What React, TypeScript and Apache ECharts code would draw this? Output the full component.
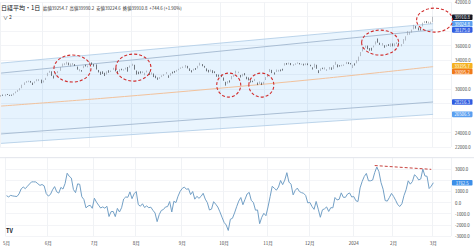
import React, { useEffect, useRef } from "react";
import * as echarts from "echarts";

// ---------- categories ----------
const firstTradingDay = "2023-05-01";
const lastTradingDay = "2024-03-01";
const marketHolidays = [
  "2023-05-03", "2023-05-04", "2023-05-05", "2023-07-17", "2023-08-11",
  "2023-09-18", "2023-10-09", "2023-11-03", "2023-11-23", "2024-01-01",
  "2024-01-02", "2024-01-03", "2024-01-08", "2024-02-12", "2024-02-23",
];
const emptySlotsAfterLast = 8;

// ---------- price candles [open, close, low, high] ----------
const candles: number[][] = [
  // May
  [29000, 29123, 28950, 29180], [29170, 29157, 29060, 29230], [29120, 29242, 29020, 29280], [29280, 29243, 29180, 29320],
  [29190, 29122, 29050, 29210], [29150, 29126, 29070, 29230], [29170, 29388, 29140, 29430], [29450, 29626, 29420, 29660],
  [29640, 29842, 29600, 29880], [29850, 30093, 29820, 30130], [30150, 30573, 30120, 30600], [30620, 30808, 30560, 30920],
  [30950, 31086, 30870, 31110], [31080, 31086, 30950, 31160], [31050, 30957, 30880, 31120], [30820, 30801, 30560, 30890],
  [30870, 30916, 30800, 31060], [31200, 31233, 31080, 31360], [31240, 31328, 31100, 31380], [31200, 30888, 30800, 31300],
  // June
  [30920, 31148, 30900, 31180], [31300, 31524, 31250, 31550], [31800, 32217, 31780, 32240], [32300, 32506, 32250, 32520],
  [32420, 31913, 31820, 32450], [31750, 31641, 31460, 31860], [31950, 32265, 31900, 32300], [32330, 32434, 32200, 32480],
  [32550, 33018, 32520, 33040], [33150, 33502, 33100, 33520], [33400, 33485, 33300, 33570], [33500, 33706, 33380, 33770],
  [33600, 33370, 33280, 33650], [33320, 33388, 33100, 33530], [33350, 33575, 33300, 33600], [33400, 33265, 33200, 33450],
  [33050, 32781, 32680, 33100], [32600, 32698, 32450, 32750], [32600, 32538, 32400, 32620], [32900, 33193, 32880, 33230],
  [33300, 33234, 33120, 33360], [33150, 33189, 33000, 33250],
  // July
  [33400, 33753, 33380, 33770], [33650, 33422, 33350, 33680], [33380, 33338, 33100, 33450], [33350, 32773, 32700, 33400],
  [32500, 32388, 32300, 32640], [32300, 32189, 31960, 32400], [32300, 32203, 32080, 32450], [32200, 31943, 31800, 32250],
  [32050, 32419, 32000, 32450], [32500, 32391, 32250, 32600], [32450, 32493, 32350, 32550], [32700, 32896, 32650, 32930],
  [32800, 32490, 32450, 32850], [32450, 32304, 32200, 32500], [32500, 32700, 32400, 32750], [32750, 32682, 32600, 32800],
  [32600, 32668, 32550, 32720], [32750, 32891, 32700, 32950], [32900, 32759, 32400, 33050], [33100, 33172, 32950, 33250],
  // August
  [33250, 33476, 33200, 33490], [33300, 32707, 32680, 33350], [32500, 32159, 32000, 32550], [32200, 32192, 32050, 32400],
  [32300, 32254, 32150, 32450], [32300, 32377, 32200, 32450], [32200, 32204, 31900, 32250], [32400, 32473, 32300, 32550],
  [32300, 32059, 31950, 32350], [32100, 32238, 32000, 32300], [32100, 31766, 31650, 32150], [31750, 31626, 31500, 31850],
  [31500, 31450, 31280, 31600], [31450, 31565, 31400, 31650], [31700, 31856, 31650, 31900], [31850, 32010, 31800, 32050],
  [32200, 32287, 32100, 32350], [31800, 31624, 31550, 31900], [31900, 32169, 31850, 32200], [32300, 32226, 32150, 32400],
  [32400, 32333, 32250, 32500], [32500, 32619, 32400, 32650],
  // September
  [32700, 32710, 32600, 32800], [32850, 32939, 32800, 32980], [33000, 33036, 32900, 33100], [33050, 33241, 32950, 33320],
  [33100, 32991, 32850, 33200], [32800, 32606, 32500, 32850], [32550, 32467, 32300, 32600], [32600, 32776, 32550, 32800],
  [32800, 32706, 32650, 32900], [32900, 33168, 32850, 33200], [33300, 33533, 33250, 33630], [33400, 33242, 33150, 33450],
  [33100, 33023, 32950, 33200], [32800, 32571, 32450, 32850], [32550, 32402, 32300, 32650], [32500, 32678, 32400, 32700],
  [32500, 32315, 32200, 32600], [32400, 32371, 32200, 32450], [31950, 31872, 31700, 32050], [31900, 31857, 31700, 32000],
  // October
  [31900, 31759, 31650, 32000], [31500, 31237, 31150, 31600], [30900, 30526, 30480, 31000], [30800, 31075, 30750, 31100],
  [31100, 30994, 30900, 31200], [31400, 31746, 31350, 31800], [31800, 31936, 31700, 32000], [32200, 32494, 32150, 32530],
  [32300, 32315, 32200, 32400], [31900, 31659, 31600, 31950], [31800, 32040, 31750, 32100], [32100, 31998, 31900, 32200],
  [31600, 31430, 31350, 31700], [31500, 31259, 31200, 31600], [31000, 30999, 30900, 31200], [31100, 31062, 30950, 31150],
  [31200, 31269, 31100, 31400], [30800, 30601, 30550, 30900], [30800, 30991, 30700, 31050], [30800, 30696, 30550, 30900],
  [30750, 30858, 30650, 31000],
  // November
  [31300, 31601, 31250, 31650], [31700, 31949, 31650, 32050], [32400, 32708, 32350, 32770], [32600, 32271, 32200, 32650],
  [32200, 32166, 32000, 32300], [32400, 32646, 32350, 32700], [32450, 32568, 32400, 32650], [32600, 32585, 32450, 32700],
  [32700, 32695, 32550, 32800], [33300, 33519, 33250, 33570], [33500, 33424, 33350, 33600], [33500, 33585, 33400, 33650],
  [33500, 33388, 33300, 33600], [33300, 33354, 33200, 33450], [33400, 33451, 33350, 33550], [33600, 33625, 33500, 33680],
  [33500, 33447, 33400, 33600], [33400, 33408, 33350, 33500], [33450, 33321, 33250, 33500], [33400, 33486, 33300, 33550],
  // December
  [33450, 33431, 33300, 33550], [33300, 33231, 33150, 33350], [32900, 32775, 32700, 33000], [33000, 33445, 32950, 33500],
  [33300, 32858, 32800, 33350], [32500, 32307, 32200, 32600], [32600, 32791, 32500, 32850], [32900, 32843, 32750, 32950],
  [32800, 32926, 32700, 33000], [32600, 32686, 32500, 32750], [32800, 32970, 32700, 33050], [32900, 32758, 32650, 33000],
  [32800, 33219, 32750, 33300], [33400, 33675, 33350, 33770], [33300, 33140, 33000, 33400], [33200, 33169, 33100, 33300],
  [33200, 33254, 33150, 33350], [33300, 33305, 33200, 33400], [33500, 33681, 33450, 33750], [33600, 33539, 33450, 33700],
  [33500, 33464, 33400, 33600],
  // January
  [33200, 33288, 32900, 33350], [33400, 33377, 33250, 33550], [33600, 33763, 33550, 33990], [33900, 34441, 33850, 34480],
  [34600, 35049, 34550, 35100], [35300, 35577, 35200, 35840], [35800, 35901, 35700, 36000], [35800, 35619, 35500, 36000],
  [35500, 35477, 35300, 35650], [35600, 35466, 35300, 35700], [35800, 35963, 35750, 36000], [36200, 36546, 36150, 36580],
  [36600, 36517, 36400, 36980], [36300, 36226, 36100, 36400], [36100, 36236, 36000, 36350], [36000, 35751, 35700, 36050],
  [35900, 36026, 35850, 36100], [36100, 36065, 35950, 36200], [35900, 36286, 35850, 36300],
  // February
  [36200, 36011, 35900, 36300], [36000, 36158, 35900, 36300], [36300, 36354, 36200, 36450], [36300, 36160, 36050, 36400],
  [36100, 36119, 35900, 36200], [36300, 36863, 36250, 36900], [36800, 36897, 36700, 37280], [37500, 37963, 37450, 38000],
  [37700, 37703, 37500, 37900], [37900, 38157, 37800, 38200], [38300, 38487, 38250, 38860], [38500, 38470, 38350, 38700],
  [38400, 38363, 38100, 38500], [38300, 38262, 38100, 38400], [38700, 39098, 38650, 39160], [39200, 39233, 39100, 39380],
  [39300, 39239, 39100, 39400], [39200, 39208, 39050, 39300], [39100, 39166, 39000, 39300],
  // March
  [39254.7, 39910.8, 39224.6, 39990.2],
];

// ---------- lower pane oscillator ----------
const oscillator: number[] = [
  609, 499, 636, 586, 558, 533, 768, 1210, 1385, 1237,
  1450, 1651, 1844, 1843, 1835, 1675, 1528, 1607, 1486, 795,
  575, 716, 1131, 1420, 956, 840, 1349, 1201, 1690, 2614,
  2337, 2182, 1153, 882, 1662, 1624, 516, 264, -480, -309,
  -251, -517, 383, 34, -237, -492, -393, -509, -335, -1250,
  -815, -798, -1260, -526, -848, -469, 312, 493, 465, 948,
  340, 781, 983, -189, -331, -112, -446, -305, -464, -418,
  -700, -934, -1710, -1081, -709, -627, -398, -367, 83, -849,
  110, -12, 567, 993, 1260, 1374, 1180, 1231, 704, 982,
  298, 550, 373, 549, 823, 303, -13, -670, -589, 72,
  -152, -405, -834, -1311, -1774, -2005, -2497, -1496, -1408, -932,
  -379, 123, 443, -198, 281, 761, 904, 184, 5, -684,
  -667, -1893, -1324, -963, -1182, -397, 519, 1449, 1272, 1104,
  1377, 1967, 1594, 1999, 2661, 1823, 1636, 680, 1083, 1285,
  979, 879, 823, 626, -33, 7, -354, -613, 91, -593,
  -1318, -656, -565, -395, -800, -461, -473, 444, 230, 282,
  862, 463, 462, 755, 853, 494, 530, 158, 88, 1301,
  1880, 2323, 2596, 1938, 1938, 2002, 2675, 3169, 2754, 1785,
  1187, 174, 125, 446, 809, 545, 195, -192, -357, -107,
  627, 1146, 1937, 1638, 1871, 2476, 2312, 2009, 2102, 2979,
  2370, 2342, 1245, 1463, 1762.5,
];

// ---------- overlays ----------
const maIdx = [0, 47, 94, 150, 204];
const maVals = [27650, 28700, 29870, 31400, 33095.2];
const channelIdx = [0, 204];
const upperOuter = [33585, 39024.8];
const upperInner = [32206, 38175.0];
const lowerInner = [23803, 28216.3];
const lowerOuter = [22500, 26506.5];
const trendIdx = [176, 203];
const trendVals = [3300, 2960];

// tick ranges
const priceMin = 22000, priceMax = 42000, priceStep = 2000;
const oscMin = -3000, oscMax = 4000, oscStep = 1000;
// tick labels hidden behind price tags in the reference
const priceLabelsCovered = [40000, 38000, 32000, 28000, 26000];
const oscLabelsCovered = [2000];

// price-scale tags
const priceTagValues = [39910.8, 39024.8, 38175.0, 33195.7, 33095.2, 28216.3, 26506.5];
const priceTagColors = ["#131722", "#5a9ff0", "#2f5ce0", "#f5b120", "#f07a1a", "#2f5ce0", "#5a9ff0"];
const oscTagValues = [1762.5];
const oscTagColors = ["#3d8fe8"];

// circled areas (index, value)
const circleIdx = [33.7, 62.5, 107.5, 122.9, 179, 204.7];
const circleVals = [32830, 32965, 30550, 30550, 36410, 39515];

const titleName = "日経平均・1日";
const titleOHLC = "始値39254.7  高値39990.2  安値39224.6  終値39910.8  +744.6 (+1.90%)";
const subTitle = "∨ 2";

// ---------- layout constants ----------
const W = 474, H = 249;
const FONT = "'Noto Sans CJK JP', 'Noto Sans', Roboto, sans-serif";
const circleRadii = [[18.5, 13.5], [17.5, 13.5], [12, 12], [12.5, 12], [18.5, 12.5], [18, 12]];

function tradingDays(): string[] {
  const out: string[] = [];
  const hol = new Set(marketHolidays);
  const d = new Date(firstTradingDay + "T00:00:00Z");
  const end = new Date(lastTradingDay + "T00:00:00Z");
  while (d.getTime() <= end.getTime()) {
    const dow = d.getUTCDay();
    const s = d.toISOString().slice(0, 10);
    if (dow !== 0 && dow !== 6 && !hol.has(s)) out.push(s);
    d.setUTCDate(d.getUTCDate() + 1);
  }
  return out;
}

export default function App() {
  const ref = useRef<HTMLDivElement>(null);
  useEffect(() => {
    if (!ref.current) return;
    const days = tradingDays();
    const cats = days.concat(Array.from({ length: emptySlotsAfterLast }, (_, i) => " ".repeat(i + 1)));
    const monthStart = cats.map((c, i) => {
      if (i >= days.length) return false;
      if (i === 0) return true;
      return c.slice(0, 7) !== cats[i - 1].slice(0, 7);
    });
    const monthLabel = (v: string) => {
      const m = parseInt(v.slice(5, 7), 10);
      return m === 1 ? v.slice(0, 4) : `${m}月`;
    };

    const chart = echarts.init(ref.current, null, { renderer: "svg" });
    const gridRight = 22.9;
    const splitV = { show: true, interval: (i: number) => monthStart[i], lineStyle: { color: "#f0f2f5", width: 1 } };
    const option: any = {
      animation: false,
      textStyle: { fontFamily: FONT },
      grid: [
        { left: 0, right: gridRight, top: 2, height: 145 },
        { left: 0, right: gridRight, top: 157.7, height: 78.4 },
      ],
      xAxis: [
        {
          type: "category", gridIndex: 0, data: cats, boundaryGap: true,
          axisLine: { show: false }, axisTick: { show: false }, axisLabel: { show: false }, splitLine: splitV,
        },
        {
          type: "category", gridIndex: 1, data: cats, boundaryGap: true,
          axisLine: { show: false }, axisTick: { show: false },
          axisLabel: {
            show: true, interval: (i: number) => monthStart[i], formatter: (v: string) => monthLabel(v),
            fontSize: 4.5, color: "#444", margin: 5, fontFamily: FONT,
          },
          splitLine: splitV,
        },
      ],
      yAxis: [
        {
          type: "value", gridIndex: 0, position: "right", min: priceMin, max: priceMax, interval: priceStep,
          axisLine: { show: false }, axisTick: { show: false },
          axisLabel: {
            formatter: (v: number) => (priceLabelsCovered.includes(v) ? "" : v.toFixed(1)),
            fontSize: 4.3, color: "#444", margin: 4, fontFamily: FONT,
          },
          splitLine: { lineStyle: { color: "#f3f4f7" } },
        },
        {
          type: "value", gridIndex: 1, position: "right", min: oscMin, max: oscMax, interval: oscStep,
          axisLine: { show: false }, axisTick: { show: false },
          axisLabel: {
            formatter: (v: number) => (oscLabelsCovered.includes(v) ? "" : v.toFixed(1)),
            fontSize: 4.3, color: "#444", margin: 4, showMaxLabel: false, fontFamily: FONT,
          },
          splitLine: { lineStyle: { color: "#f3f4f7" } },
        },
      ],
      series: [
        {
          type: "custom", xAxisIndex: 0, yAxisIndex: 0, silent: true, clip: true, z: 1,
          data: [[channelIdx[0], upperOuter[0]]],
          renderItem: (_p: any, api: any) => {
            const c = (i: number, v: number) => api.coord([i, v]);
            return {
              type: "group",
              children: [
                {
                  type: "polygon",
                  shape: { points: [c(channelIdx[0], upperOuter[0]), c(channelIdx[1], upperOuter[1]), c(channelIdx[1], lowerOuter[1]), c(channelIdx[0], lowerOuter[0])] },
                  style: { fill: "rgba(66,165,245,0.11)" },
                },
                {
                  type: "polygon",
                  shape: { points: [c(channelIdx[0], upperInner[0]), c(channelIdx[1], upperInner[1]), c(channelIdx[1], lowerInner[1]), c(channelIdx[0], lowerInner[0])] },
                  style: { fill: "rgba(66,165,245,0.025)" },
                },
              ],
            };
          },
        },
        ...[
          [upperOuter, "#b4cfe8"],
          [upperInner, "#a3b8cf"],
          [lowerInner, "#a3b8cf"],
          [lowerOuter, "#b4cfe8"],
        ].map(([vals, col]: any) => ({
          type: "line", xAxisIndex: 0, yAxisIndex: 0, silent: true, symbol: "none", z: 2,
          data: [[cats[channelIdx[0]], vals[0]], [cats[channelIdx[1]], vals[1]]],
          lineStyle: { color: col, width: 0.9 },
        })),
        {
          type: "line", xAxisIndex: 0, yAxisIndex: 0, silent: true, symbol: "none", smooth: 0.3, z: 3,
          data: maIdx.map((i, k) => [cats[i], maVals[k]]),
          lineStyle: { color: "#f2c29c", width: 1 },
        },
        {
          type: "candlestick", xAxisIndex: 0, yAxisIndex: 0, silent: true, z: 5,
          data: candles, barWidth: 1.3,
          itemStyle: { color: "#a3a8b0", color0: "#1f2226", borderColor: "#8e949d", borderColor0: "#1f2226", borderWidth: 0.6 },
        },
        {
          type: "line", xAxisIndex: 1, yAxisIndex: 1, silent: true, symbol: "none", z: 5,
          data: oscillator, lineStyle: { color: "#73a0c6", width: 1 },
        },
        {
          type: "line", xAxisIndex: 1, yAxisIndex: 1, silent: true, symbol: "none", z: 6,
          data: trendIdx.map((i, k) => [cats[i], trendVals[k]]),
          lineStyle: { color: "#c8423e", width: 1, type: [3, 2] },
        },
      ],
    };
    chart.setOption(option);

    // overlay graphics placed through the chart's own scales
    const x0 = chart.convertToPixel({ xAxisIndex: 0 }, 0) as number;
    const x1 = chart.convertToPixel({ xAxisIndex: 0 }, 1) as number;
    const xAt = (i: number) => x0 + i * (x1 - x0);
    const g: any[] = [];

    circleIdx.forEach((i, k) => {
      const cy = chart.convertToPixel({ yAxisIndex: 0 }, circleVals[k]) as number;
      g.push({
        type: "ellipse", silent: true, z: 100,
        shape: { cx: xAt(i), cy, rx: circleRadii[k][0], ry: circleRadii[k][1] },
        style: { fill: "none", stroke: "#d12e2e", lineWidth: 1.1, lineDash: [3, 2] },
      });
    });

    const sep = chart.convertToPixel({ yAxisIndex: 1 }, oscMax) as number;
    g.push({ type: "line", silent: true, z: 50, shape: { x1: 0, y1: sep, x2: W, y2: sep }, style: { stroke: "#e3e6ec", lineWidth: 1 } });

    const tagH = 5.6;
    const addTags = (axis: number, vals: number[], cols: string[]) => {
      let prev = -1e9;
      vals.forEach((v, k) => {
        let y = chart.convertToPixel({ yAxisIndex: axis }, v) as number;
        if (y < prev + tagH) y = prev + tagH;
        prev = y;
        g.push({
          type: "group", z: 120, silent: true,
          children: [
            { type: "rect", shape: { x: 452, y: y - tagH / 2, width: 20.5, height: tagH, r: 0.8 }, style: { fill: cols[k] } },
            { type: "text", x: 462.2, y, style: { text: v.toFixed(1), fill: "#ffffff", fontSize: 4.3, fontFamily: FONT, align: "center", verticalAlign: "middle" } },
          ],
        });
      });
    };
    addTags(0, priceTagValues, priceTagColors);
    addTags(1, oscTagValues, oscTagColors);

    g.push({ type: "text", x: 1, y: 7.5, z: 130, silent: true, style: { text: titleName, fill: "#131722", fontSize: 6, fontFamily: FONT, verticalAlign: "middle" } });
    g.push({ type: "text", x: 43, y: 7.5, z: 130, silent: true, style: { text: titleOHLC, fill: "#333", fontSize: 4.4, fontFamily: FONT, verticalAlign: "middle" } });
    g.push({ type: "text", x: 3, y: 16, z: 130, silent: true, style: { text: subTitle, fill: "#333", fontSize: 5, fontFamily: FONT, verticalAlign: "middle" } });
    g.push({ type: "text", x: 6, y: 230.5, z: 130, silent: true, style: { text: "TV", fill: "#131722", fontSize: 5.5, fontWeight: "bold", fontFamily: FONT, verticalAlign: "middle" } });

    chart.setOption({ graphic: g });
    return () => chart.dispose();
  }, []);

  return <div ref={ref} style={{ position: "fixed", left: 0, top: 0, width: W, height: H, background: "#fff" }} />;
}
